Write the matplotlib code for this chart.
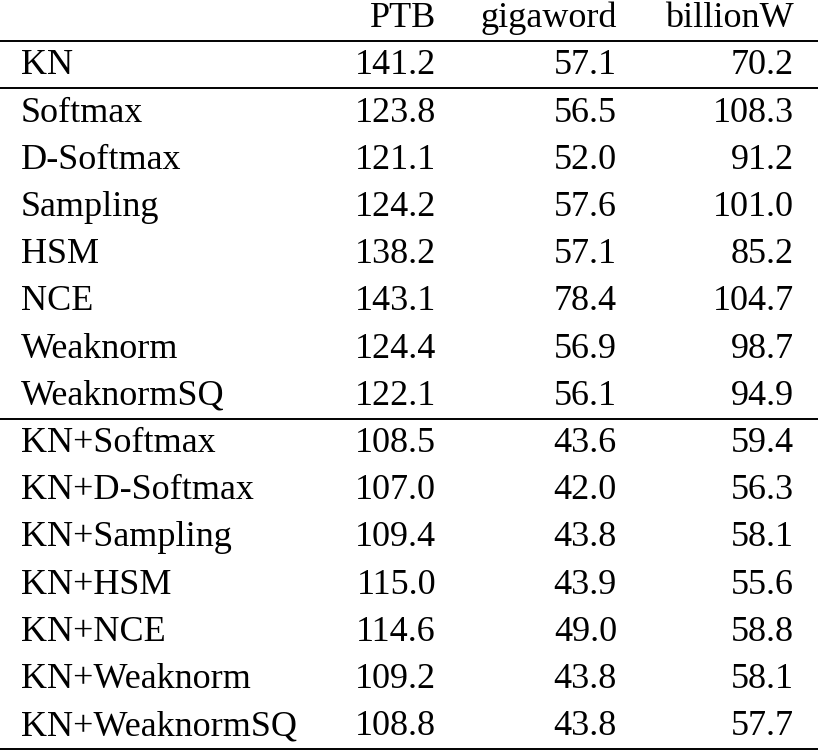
import matplotlib.pyplot as plt

methods = ["KN",
           "Softmax", "D-Softmax", "Sampling", "HSM", "NCE", "Weaknorm", "WeaknormSQ",
           "KN+Softmax", "KN+D-Softmax", "KN+Sampling", "KN+HSM", "KN+NCE",
           "KN+Weaknorm", "KN+WeaknormSQ"]
ptb = [141.2, 123.8, 121.1, 124.2, 138.2, 143.1, 124.4, 122.1,
       108.5, 107.0, 109.4, 115.0, 114.6, 109.2, 108.8]
gigaword = [57.1, 56.5, 52.0, 57.6, 57.1, 78.4, 56.9, 56.1,
            43.6, 42.0, 43.8, 43.9, 49.0, 43.8, 43.8]
billionw = [70.2, 108.3, 91.2, 101.0, 85.2, 104.7, 98.7, 94.9,
            59.4, 56.3, 58.1, 55.6, 58.8, 58.1, 57.7]
headers = ["PTB", "gigaword", "billionW"]

# rules drawn after these rows (index into methods)
rules_after = [0, 7]

W, H = 818, 755
fig = plt.figure(figsize=(W / 100, H / 100), dpi=100)
ax = fig.add_axes([0, 0, 1, 1])
ax.set_xlim(0, W)
ax.set_ylim(H, 0)
ax.axis("off")

plt.rcParams["font.family"] = ["Liberation Serif", "DejaVu Serif"]
fs = 26

top = 41        # line under header
pitch = 47.2    # row height
base_off = 33.5 # baseline offset inside a row
x_label = 21
x_cols = [436, 617, 794]

# header
for x, h in zip(x_cols, headers):
    ax.text(x, top - 14, h, ha="right", va="baseline", fontsize=fs)

lw = 1.4
ax.plot([0, W], [top, top], color="black", lw=lw)

for i, m in enumerate(methods):
    yb = top + i * pitch + base_off
    ax.text(x_label, yb, m, ha="left", va="baseline", fontsize=fs)
    for x, v in zip(x_cols, (ptb[i], gigaword[i], billionw[i])):
        ax.text(x, yb, f"{v:.1f}", ha="right", va="baseline", fontsize=fs)

for r in rules_after:
    y = top + (r + 1) * pitch
    ax.plot([0, W], [y, y], color="black", lw=lw)

yend = top + len(methods) * pitch
ax.plot([0, W], [yend, yend], color="black", lw=lw)

fig.savefig("out.png", dpi=100)
